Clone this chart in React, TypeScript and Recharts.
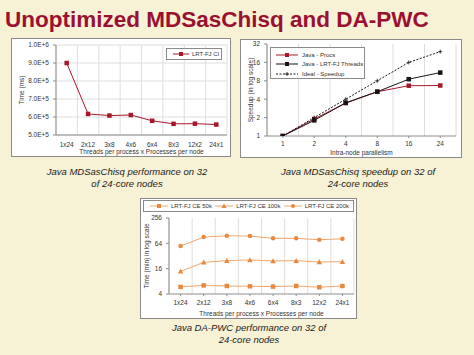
import React from 'react';
import { LineChart, Line, XAxis, YAxis, CartesianGrid, Legend } from 'recharts';

// ---------- data ----------
const perfCategories = ['1x24', '2x12', '3x8', '4x6', '6x4', '8x3', '12x2', '24x1'];
const lrtFjCi = [900000, 617000, 608000, 611000, 579000, 562000, 563000, 558000];
const perfTicks = [500000, 600000, 700000, 800000, 900000, 1000000];

const speedupCategories = ['1', '2', '4', '8', '16', '24'];
const javaProcs = [1, 1.9, 3.45, 5.3, 6.65, 6.7];
const javaThreads = [1, 1.8, 3.5, 5.3, 8.5, 10.9];
const idealSpeedup = [1, 2, 4, 8, 16, 24];
const speedupTicks = [1, 2, 4, 8, 16, 32];

const dapwcCategories = ['1x24', '2x12', '3x8', '4x6', '6x4', '8x3', '12x2', '24x1'];
const ce50k = [5.9, 6.4, 6.2, 6.1, 6.0, 6.2, 5.8, 6.2];
const ce100k = [13.8, 22.6, 24.8, 25.8, 24.4, 24.8, 23.0, 23.5];
const ce200k = [55, 90, 97, 95, 84, 84, 78, 82];
const dapwcTicks = [4, 16, 64, 256];

// ---------- styles ----------
const FONT = '"Liberation Sans", Arial, sans-serif';
const BG = '#f7f1d5';
const TITLE = '#9b1030';
const AXIS = '#8c8c8c';
const TXT = '#333333';
const GRID = '#dedede';
const RED = '#a8182a';
const BLACK = '#151515';
const ORANGE_LINE = '#f2a66b';
const ORANGE_MARK = '#e9893f';

const tickStyle = { fontSize: 6.5, fill: TXT, fontFamily: FONT };
const labelStyle = { fontSize: 6.5, fill: TXT, fontFamily: FONT, textAnchor: 'middle' as const };

type Shape = 'square' | 'triangle' | 'circle' | 'plus';

function MarkerShape({ shape, x, y, size, color }: { shape: Shape; x: number; y: number; size: number; color: string }) {
  const h = size / 2;
  if (shape === 'square') return <rect x={x - h} y={y - h} width={size} height={size} fill={color} />;
  if (shape === 'circle') return <circle cx={x} cy={y} r={h} fill={color} />;
  if (shape === 'triangle')
    return <polygon points={`${x},${y - h - 0.5} ${x + h + 0.5},${y + h} ${x - h - 0.5},${y + h}`} fill={color} />;
  return (
    <g stroke={color} strokeWidth={0.8}>
      <line x1={x - h} y1={y} x2={x + h} y2={y} />
      <line x1={x} y1={y - h} x2={x} y2={y + h} />
    </g>
  );
}

const renderDot = (shape: Shape, color: string, size: number) => (p: any) => {
  const { cx, cy, index } = p;
  if (typeof cx !== 'number' || typeof cy !== 'number') return <g key={`e${index}`} />;
  return (
    <g key={`d${index}`}>
      <MarkerShape shape={shape} x={cx} y={cy} size={size} color={color} />
    </g>
  );
};

function LegendIcon({ shape, color, lineColor, dash, w = 18 }: { shape: Shape; color: string; lineColor: string; dash?: string; w?: number }) {
  return (
    <svg width={w} height={8} style={{ display: 'block', flex: 'none' }}>
      <line x1={0} y1={4} x2={w} y2={4} stroke={lineColor} strokeWidth={1} strokeDasharray={dash} />
      <MarkerShape shape={shape} x={w / 2} y={4} size={4} color={color} />
    </svg>
  );
}

const boundaries = (n: number) => (props: any) => {
  const off = props.offset;
  return Array.from({ length: n + 1 }, (_, i) => off.left + (off.width * i) / n);
};

const sci = (v: number) => {
  const e = Math.floor(Math.log10(v) + 1e-9);
  const m = v / Math.pow(10, e);
  return `${m.toFixed(1)}E+${e}`;
};

const boxStyle = (left: number, top: number, width: number, height: number): React.CSSProperties => ({
  position: 'absolute',
  left,
  top,
  width,
  height,
  background: '#ffffff',
  outline: '1px solid #8a8a8a',
  outlineOffset: -1,
});

// ---------- chart 1 ----------
const perfData = perfCategories.map((c, i) => ({ idx: i + 1, label: c, lrt: lrtFjCi[i] }));

function PerfChart() {
  const n = perfCategories.length;
  return (
    <div style={boxStyle(11, 38, 220, 119)}>
      <LineChart width={220} height={119} data={perfData} margin={{ top: 7, right: 4, left: 0, bottom: 0 }}>
        <CartesianGrid stroke={GRID} verticalCoordinatesGenerator={boundaries(n)} />
        <XAxis
          type="number"
          dataKey="idx"
          domain={[0.5, n + 0.5]}
          ticks={perfCategories.map((_, i) => i + 1)}
          interval={0}
          tickFormatter={(v: number) => perfCategories[v - 1]}
          height={22}
          tick={tickStyle}
          tickLine={false}
          tickSize={3}
          tickMargin={4}
          stroke={AXIS}
          label={{ value: 'Threads per process x Processes per node', position: 'insideBottom', offset: 3, style: labelStyle }}
        />
        <YAxis
          type="number"
          domain={[500000, 1000000]}
          ticks={perfTicks}
          interval={0}
          tickFormatter={sci}
          width={45}
          tick={tickStyle}
          tickSize={3}
          tickMargin={4}
          stroke={AXIS}
          label={{ value: 'Time (ms)', angle: -90, position: 'insideLeft', offset: 11, style: labelStyle }}
        />
        <Legend
          verticalAlign="middle"
          align="center"
          wrapperStyle={{ left: 155, top: 10, width: 56, height: 12 }}
          content={() => (
            <div style={{ width: 56, height: 12, boxSizing: 'border-box', border: '1px solid #8a8a8a', background: '#fff', display: 'flex', alignItems: 'center', gap: 3, paddingLeft: 6, fontSize: 6, fontFamily: FONT, color: TXT, whiteSpace: 'nowrap' }}>
              <LegendIcon shape="square" color={RED} lineColor={RED} w={16} />
              <span>LRT-FJ CI</span>
            </div>
          )}
        />
        <Line type="linear" dataKey="lrt" stroke={RED} strokeWidth={1} dot={renderDot('square', RED, 4.5)} activeDot={false} isAnimationActive={false} />
      </LineChart>
    </div>
  );
}

// ---------- chart 2 ----------
const speedupData = speedupCategories.map((c, i) => ({
  idx: i + 1,
  label: c,
  procs: javaProcs[i],
  threads: javaThreads[i],
  ideal: idealSpeedup[i],
}));

const speedupSeries = [
  { key: 'procs', name: 'Java - Procs', color: RED, shape: 'square' as Shape, dash: undefined as string | undefined },
  { key: 'threads', name: 'Java - LRT-FJ Threads', color: BLACK, shape: 'square' as Shape, dash: undefined },
  { key: 'ideal', name: 'Ideal - Speedup', color: BLACK, shape: 'plus' as Shape, dash: '2 1.5' },
];

function SpeedupChart() {
  const n = speedupCategories.length;
  return (
    <div style={boxStyle(240, 39, 222, 119)}>
      <LineChart width={222} height={119} data={speedupData} margin={{ top: 5, right: 6, left: 0, bottom: 0 }}>
        <CartesianGrid stroke={GRID} horizontal={false} verticalCoordinatesGenerator={boundaries(n)} />
        <XAxis
          type="number"
          dataKey="idx"
          domain={[0.5, n + 0.5]}
          ticks={speedupCategories.map((_, i) => i + 1)}
          interval={0}
          tickFormatter={(v: number) => speedupCategories[v - 1]}
          height={22}
          tick={tickStyle}
          tickSize={2}
          tickMargin={3}
          stroke={AXIS}
          label={{ value: 'Intra-node parallelism', position: 'insideBottom', offset: 3, style: labelStyle }}
        />
        <YAxis
          type="number"
          scale="log"
          domain={[1, 32]}
          allowDataOverflow
          ticks={speedupTicks}
          interval={0}
          width={27}
          tick={tickStyle}
          tickSize={3}
          tickMargin={4}
          stroke={AXIS}
          label={{ value: 'Speedup (in log scale)', angle: -90, position: 'insideLeft', offset: 11, style: labelStyle }}
        />
        <Legend
          verticalAlign="middle"
          align="center"
          wrapperStyle={{ left: 30, top: 8, width: 95, height: 32 }}
          content={() => (
            <div style={{ width: 95, height: 32, boxSizing: 'border-box', border: '1px solid #8a8a8a', background: '#fff', padding: '2px 0 0 5px', fontSize: 6, fontFamily: FONT, color: TXT, whiteSpace: 'nowrap' }}>
              {speedupSeries.map((s) => (
                <div key={s.key} style={{ display: 'flex', alignItems: 'center', gap: 4, height: 9.5 }}>
                  <LegendIcon shape={s.shape} color={s.color} lineColor={s.color} dash={s.dash} w={22} />
                  <span>{s.name}</span>
                </div>
              ))}
            </div>
          )}
        />
        {speedupSeries.map((s) => (
          <Line
            key={s.key}
            type="linear"
            dataKey={s.key}
            name={s.name}
            stroke={s.color}
            strokeWidth={1}
            strokeDasharray={s.dash}
            dot={renderDot(s.shape, s.color, s.shape === 'plus' ? 4 : 4.5)}
            activeDot={false}
            isAnimationActive={false}
          />
        ))}
      </LineChart>
    </div>
  );
}

// ---------- chart 3 ----------
const dapwcData = dapwcCategories.map((c, i) => ({
  idx: i + 1,
  label: c,
  k50: ce50k[i],
  k100: ce100k[i],
  k200: ce200k[i],
}));

const dapwcSeries = [
  { key: 'k50', name: 'LRT-FJ CE 50k', shape: 'square' as Shape },
  { key: 'k100', name: 'LRT-FJ CE 100k', shape: 'triangle' as Shape },
  { key: 'k200', name: 'LRT-FJ CE 200k', shape: 'circle' as Shape },
];

function DapwcChart() {
  const n = dapwcCategories.length;
  return (
    <div style={boxStyle(140, 198, 217, 121)}>
      <LineChart width={217} height={121} data={dapwcData} margin={{ top: 20, right: 3, left: 0, bottom: 0 }}>
        <CartesianGrid stroke={GRID} horizontal={false} verticalCoordinatesGenerator={boundaries(n)} />
        <XAxis
          type="number"
          dataKey="idx"
          domain={[0.5, n + 0.5]}
          ticks={dapwcCategories.map((_, i) => i + 1)}
          interval={0}
          tickFormatter={(v: number) => dapwcCategories[v - 1]}
          height={25}
          tick={tickStyle}
          tickSize={2}
          tickMargin={4}
          stroke={AXIS}
          label={{ value: 'Threads per process x Processes per node', position: 'insideBottom', offset: 3, style: labelStyle }}
        />
        <YAxis
          type="number"
          scale="log"
          domain={[4, 256]}
          allowDataOverflow
          ticks={dapwcTicks}
          interval={0}
          width={29}
          tick={tickStyle}
          tickSize={3}
          tickMargin={4}
          stroke={AXIS}
          label={{ value: 'Time (min) in log scale', angle: -90, position: 'insideLeft', offset: 7, style: labelStyle }}
        />
        <Legend
          verticalAlign="middle"
          align="center"
          wrapperStyle={{ left: 3, top: 2, width: 211, height: 12 }}
          content={() => (
            <div style={{ width: 211, height: 12, boxSizing: 'border-box', border: '1px solid #8a8a8a', background: '#fff', display: 'flex', alignItems: 'center', justifyContent: 'space-between', padding: '0 4px 0 6px', fontSize: 6, fontFamily: FONT, color: TXT, whiteSpace: 'nowrap' }}>
              {dapwcSeries.map((s) => (
                <div key={s.key} style={{ display: 'flex', alignItems: 'center', gap: 3, whiteSpace: 'nowrap', flex: 'none' }}>
                  <LegendIcon shape={s.shape} color={ORANGE_MARK} lineColor={ORANGE_LINE} w={18} />
                  <span>{s.name}</span>
                </div>
              ))}
            </div>
          )}
        />
        {dapwcSeries.map((s) => (
          <Line
            key={s.key}
            type="linear"
            dataKey={s.key}
            name={s.name}
            stroke={ORANGE_LINE}
            strokeWidth={1}
            dot={renderDot(s.shape, ORANGE_MARK, 4.5)}
            activeDot={false}
            isAnimationActive={false}
          />
        ))}
      </LineChart>
    </div>
  );
}

// ---------- captions ----------
const captionStyle = (centerX: number, top: number): React.CSSProperties => ({
  position: 'absolute',
  left: centerX - 110,
  top,
  width: 220,
  textAlign: 'center',
  fontStyle: 'italic',
  fontSize: 9.5,
  lineHeight: '12px',
  color: '#222',
  fontFamily: FONT,
});

export default function App() {
  return (
    <div style={{ position: 'absolute', left: 0, top: 0, width: 474, height: 355, background: BG, overflow: 'hidden', fontFamily: FONT }}>
      <div style={{ position: 'absolute', left: 5, top: 7, fontSize: 22.5, lineHeight: '26px', fontWeight: 700, color: TITLE, whiteSpace: 'nowrap' }}>
        Unoptimized MDSasChisq and DA-PWC
      </div>
      <PerfChart />
      <SpeedupChart />
      <DapwcChart />
      <div style={captionStyle(127, 166)}>
        Java MDSasChisq performance on 32
        <br />
        of 24-core nodes
      </div>
      <div style={captionStyle(358, 166)}>
        Java MDSasChisq speedup on 32 of
        <br />
        24-core nodes
      </div>
      <div style={captionStyle(249, 322)}>
        Java DA-PWC performance on 32 of
        <br />
        24-core nodes
      </div>
    </div>
  );
}
